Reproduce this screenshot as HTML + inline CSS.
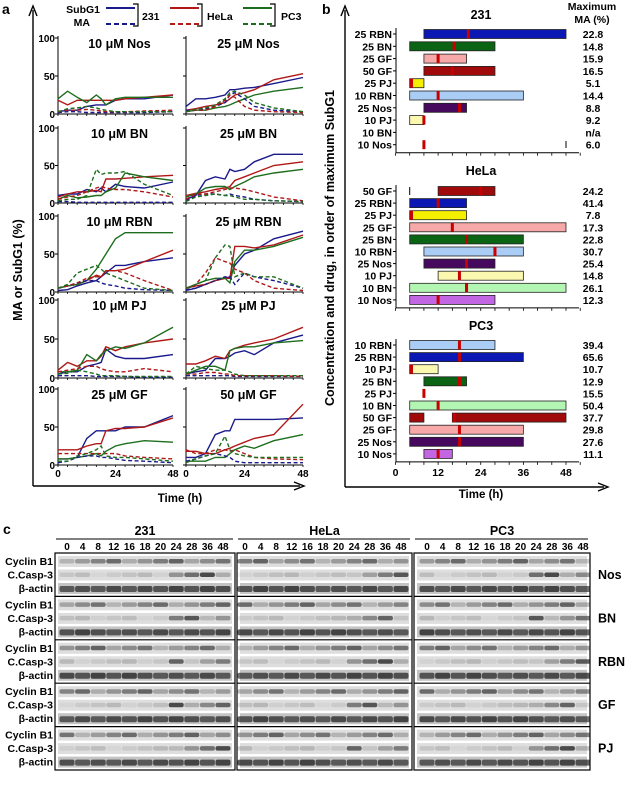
<!DOCTYPE html>
<html><head><meta charset="utf-8"><style>
body{margin:0;background:#fff}
svg{display:block;font-family:"Liberation Sans",Arial,sans-serif;font-weight:bold}
</style></head><body>
<svg id="fig" width="632" height="788" viewBox="0 0 632 788">
<g id="pa"></g>
<g id="pb"></g>
<g id="pc"></g>
</svg>
<script>
// ---------- Panel a data ----------
const times=[0,4,8,12,16,18,20,24,28,36,48];
const plotTitles=["10 \u03bcM Nos","25 \u03bcM Nos","10 \u03bcM BN","25 \u03bcM BN","10 \u03bcM RBN","25 \u03bcM RBN","10 \u03bcM PJ","25 \u03bcM PJ","25 \u03bcM GF","50 \u03bcM GF"];
const sub231=[[3,5,5,10,12,12,12,18,20,20,25],[10,20,20,22,25,32,32,34,35,40,48],[10,12,12,18,15,20,15,25,22,20,28],[5,10,30,35,32,45,42,45,55,65,65],[2,3,8,12,15,20,25,35,35,40,45],[2,5,10,15,18,20,35,50,55,70,80],[5,8,8,15,18,20,37,28,25,25,30],[5,8,10,25,25,28,32,35,30,45,55],[8,8,10,35,45,45,45,45,50,50,65],[10,10,15,40,45,45,60,60,60,60,62]];
const subHeLa=[[18,12,18,18,18,18,18,18,20,22,25],[5,7,10,12,15,20,25,28,32,45,53],[8,12,15,15,17,15,32,32,33,35,37],[10,13,15,18,20,22,30,35,40,50,55],[5,8,10,15,22,20,28,28,30,40,55],[5,8,10,15,18,18,60,60,58,62,75],[10,20,15,22,22,28,40,35,40,45,50],[18,18,22,28,25,35,38,42,45,50,65],[20,20,20,25,28,28,45,48,48,50,62],[18,18,15,15,20,22,25,30,35,40,80]];
const subPC3=[[20,30,22,15,25,20,12,20,22,22,22],[3,5,5,8,10,12,15,20,25,30,35],[5,10,7,8,10,10,15,20,40,35,30],[8,12,20,22,22,18,22,28,35,40,45],[5,8,10,15,30,40,50,70,78,78,78],[5,10,15,18,18,12,40,55,55,60,72],[8,8,10,30,22,30,35,40,38,45,65],[5,10,15,15,10,35,38,40,40,45,48],[8,8,10,12,15,12,18,25,28,32,30],[5,5,5,10,10,15,20,25,22,32,40]];
const ma231=[[2,3,3,2,2,2,2,2,2,2,3],[5,5,7,10,15,25,28,20,10,5,3],[2,2,1,1,1,1,1,1,1,1,1],[3,10,12,12,10,12,10,8,5,3,2],[5,8,12,15,15,12,10,8,5,3,2],[3,5,10,15,20,20,10,25,20,15,5],[3,3,3,3,2,2,2,2,2,1,1],[3,3,3,3,3,3,2,2,2,2,2],[3,5,10,12,12,10,10,8,6,5,3],[5,8,12,15,12,10,5,3,3,3,3]];
const maHeLa=[[3,5,5,6,5,4,3,3,3,4,5],[3,5,5,10,18,25,22,10,5,3,2],[5,8,10,15,20,22,20,18,18,15,8],[5,12,12,15,18,20,20,18,15,8,3],[5,8,12,18,20,20,28,28,25,15,2],[5,10,25,45,40,38,30,25,15,5,2],[8,10,12,15,15,12,10,8,8,12,8],[5,5,7,7,5,5,3,3,3,3,2],[15,15,15,15,15,15,15,15,12,10,8],[20,15,15,20,20,18,20,15,10,8,7]];
const maPC3=[[3,7,8,10,8,6,5,3,3,3,3],[3,6,8,12,20,28,30,25,15,8,3],[3,5,5,10,45,38,40,40,42,25,10],[2,8,10,12,10,10,8,5,5,3,2],[5,10,25,30,35,30,25,20,15,5,2],[5,10,15,45,62,60,20,25,20,20,5],[5,6,10,8,5,3,3,3,2,2,2],[5,15,12,10,10,8,5,3,3,3,3],[5,5,12,15,20,25,12,10,10,8,5],[3,8,12,15,38,20,15,12,10,10,10]];

// ---------- Panel b data ----------
const bSections=["231","HeLa","PC3"];
const bLabels=[["25 RBN","25 BN","25 GF","50 GF","25 PJ","10 RBN","25 Nos","10 PJ","10 BN","10 Nos"],
["50 GF","25 RBN","25 PJ","25 GF","25 BN","10 RBN","25 Nos","10 PJ","10 BN","10 Nos"],
["10 RBN","25 RBN","10 PJ","25 BN","25 PJ","10 BN","50 GF","25 GF","25 Nos","10 Nos"]];
const bStart=[[8,4,8,8,4,4,8,4,null,null],[12,4,4,4,4,8,8,12,4,4],[4,4,4,8,null,4,4,4,4,8]];
const bEnd=[[48,28,20,28,8,36,20,8,null,null],[28,20,20,48,36,36,28,36,48,28],[28,36,12,20,null,48,48,36,36,16]];
const bPeak=[[20.5,16.5,12,16,4.5,12,18,8,null,8],[24,12,4.5,16,20,28,20,18,20,12],[18,18,4.5,18,8,12,16.5,18,18,12]];
const bMaxMA=[["22.8","14.8","15.9","16.5","5.1","14.4","8.8","9.2","n/a","6.0"],["24.2","41.4","7.8","17.3","22.8","30.7","25.4","14.8","26.1","12.3"],["39.4","65.6","10.7","12.9","15.5","50.4","37.7","29.8","27.6","11.1"]];
const bTicks=[0,12,24,36,48];
const drugColor={"25 RBN":"#0b18b4","25 BN":"#0b6414","25 GF":"#f7a9a9","50 GF":"#a00a0a","25 PJ":"#f5ef00","10 RBN":"#a9cdf5","25 Nos":"#46095e","10 PJ":"#fbf8b0","10 BN":"#b3f5b3","10 Nos":"#c266e3"};

const NS="http://www.w3.org/2000/svg";
function mk(parent,tag,attrs,text){const e=document.createElementNS(NS,tag);for(const k in attrs)e.setAttribute(k,attrs[k]);if(text!==undefined)e.textContent=text;parent.appendChild(e);return e;}

// ===== Panel A =====
const pa=document.getElementById('pa');
let t;
t=mk(pa,'text',{x:2,y:14,'font-size':14},'a');


let ax=mk(pa,'path',{d:'M33,486 L33,10 M29,16 L33,6 L37,16 M33,486 L300,486 M294,482 L304,486 L294,490',stroke:'#000','stroke-width':1.4,fill:'none'});


t=mk(pa,'text',{x:0,y:0,'font-size':12.5,'text-anchor':'middle',transform:'translate(22,270) rotate(-90)'},'MA or SubG1 (%)');


t=mk(pa,'text',{x:180,y:502,'font-size':11.5,'text-anchor':'middle'},'Time (h)');


const lg=mk(pa,'g',{});


mk(lg,'text',{x:100,y:13,'font-size':10.5,'text-anchor':'end'},'SubG1');
mk(lg,'text',{x:90,y:26,'font-size':10.5,'text-anchor':'end'},'MA');
const legItems=[["231","#1a1a8c",106,142],["HeLa","#b01818",170,207],["PC3","#1e6e1e",243,281]];
legItems.forEach(li=>{
  const g=mk(lg,'g',{});
  
  
  mk(g,'line',{x1:li[2],y1:8,x2:li[2]+29,y2:8,stroke:li[1],'stroke-width':2});
  mk(g,'line',{x1:li[2],y1:24,x2:li[2]+29,y2:24,stroke:li[1],'stroke-width':2,'stroke-dasharray':'5,3'});
  mk(g,'path',{d:`M${li[2]+27},4 L${li[2]+32},4 L${li[2]+32},26 L${li[2]+27},26`,stroke:'#000','stroke-width':1.2,fill:'none'});
  mk(g,'text',{x:li[3],y:20,'font-size':10.5},li[0]);
});
const rowTop=[38,128,216,300,389], rowBot=[114,203,292,378,465];
const colL=[58,186], colR=[173,303];
const seriesDefs=[[sub231,'#1a1a8c',false,'subg1-231'],[subHeLa,'#b01818',false,'subg1-hela'],[subPC3,'#1e6e1e',false,'subg1-pc3'],[ma231,'#1a1a8c',true,'ma-231'],[maHeLa,'#b01818',true,'ma-hela'],[maPC3,'#1e6e1e',true,'ma-pc3']];
for(let p=0;p<10;p++){
  const r=Math.floor(p/2), c=p%2;
  const x0=colL[c], x1=colR[c], yT=rowTop[r], yB=rowBot[r];
  const xs=v=>x0+(v/48)*(x1-x0);
  const ys=v=>yB-(v/100)*(yB-yT);
  const g=mk(pa,'g',{});
  
  
  mk(g,'line',{x1:x0,y1:yT-2,x2:x0,y2:yB,stroke:'#000','stroke-width':1});
  mk(g,'line',{x1:x0,y1:yB,x2:x1,y2:yB,stroke:'#000','stroke-width':1});
  for(let h=0;h<=48;h+=4){mk(g,'line',{x1:xs(h),y1:yB,x2:xs(h),y2:yB+2,stroke:'#000','stroke-width':0.8});}
  [0,50,100].forEach(v=>{mk(g,'line',{x1:x0-3,y1:ys(v),x2:x0,y2:ys(v),stroke:'#000','stroke-width':1});
    if(c===0) mk(g,'text',{x:x0-3,y:ys(v)+4,'font-size':10,'text-anchor':'end'},String(v));});
  if(r===4){[0,24,48].forEach(v=>mk(g,'text',{x:xs(v),y:yB+12,'font-size':10,'text-anchor':'middle'},String(v)));}
  mk(g,'text',{x:(x0+x1)/2+4,y:yT+10,'font-size':12.5,'text-anchor':'middle'},plotTitles[p]);
  seriesDefs.forEach(sd=>{
    const vals=sd[0][p];
    const pts=times.map((tm,i)=>xs(tm).toFixed(1)+','+ys(vals[i]).toFixed(1)).join(' ');
    const pl=mk(g,'polyline',{points:pts,fill:'none',stroke:sd[1],'stroke-width':1.4});
    if(sd[2]) pl.setAttribute('stroke-dasharray','4,2.5');
    
    
  });
}

// ===== Panel B =====
const pb=document.getElementById('pb');
t=mk(pb,'text',{x:322,y:14,'font-size':14},'b');


ax=mk(pb,'path',{d:'M345,487 L345,10 M341,16 L345,6 L349,16 M345,487 L604,487 M598,483 L608,487 L598,491',stroke:'#000','stroke-width':1.4,fill:'none'});


t=mk(pb,'text',{x:0,y:0,'font-size':12.5,'text-anchor':'middle',transform:'translate(334,248) rotate(-90)'},'Concentration and drug, in order of maximum SubG1');


t=mk(pb,'text',{x:481,y:498,'font-size':11.5,'text-anchor':'middle'},'Time (h)');


t=mk(pb,'text',{x:592,y:10,'font-size':10.5,'text-anchor':'middle'},'Maximum');


mk(pb,'text',{x:592,y:23,'font-size':10.5,'text-anchor':'middle'},'MA (%)');
const bx=h=>395.5+h*(170.5/48);
const secTop=[34,191,345], secTitleY=[19,175,330], rowH=[12.3,12.1,12.1];
for(let s=0;s<3;s++){
  const g=mk(pb,'g',{});
  
  
  mk(g,'text',{x:481,y:secTitleY[s],'font-size':12.5,'text-anchor':'middle'},bSections[s]);
  const yFirst=secTop[s], yLast=secTop[s]+9*rowH[s], axY=yLast+8;
  mk(g,'line',{x1:396,y1:yFirst-6,x2:396,y2:axY,stroke:'#000','stroke-width':1});
  mk(g,'line',{x1:396,y1:axY,x2:579,y2:axY,stroke:'#000','stroke-width':1});
  for(let h=0;h<=52;h+=4){mk(g,'line',{x1:bx(h),y1:axY,x2:bx(h),y2:axY+3,stroke:'#000','stroke-width':0.8});}
  if(s===2){bTicks.forEach(v=>mk(g,'text',{x:bx(v),y:axY+14,'font-size':10.5,'text-anchor':'middle'},String(v)));}
  for(let i=0;i<10;i++){
    const y=yFirst+i*rowH[s], lab=bLabels[s][i];
    mk(g,'text',{x:392,y:y+4,'font-size':10.5,'text-anchor':'end'},lab);
    mk(g,'line',{x1:393,y1:y,x2:396,y2:y,stroke:'#000','stroke-width':1});
    mk(g,'text',{x:593,y:y+4,'font-size':10.5,'text-anchor':'middle'},bMaxMA[s][i]);
    if(bStart[s][i]!==null){
      const segs=(s===2&&lab==="50 GF")?[[bStart[s][i],8],[16,bEnd[s][i]]]:[[bStart[s][i],bEnd[s][i]]];
      segs.forEach(sg=>{
        const b=mk(g,'rect',{x:bx(sg[0]),y:y-4.5,width:bx(sg[1])-bx(sg[0]),height:9,fill:drugColor[lab],stroke:'#222','stroke-width':0.8});
        
        
      });
    }
    if(bPeak[s][i]!==null){
      const m=mk(g,'rect',{x:bx(bPeak[s][i])-1.5,y:y-4.5,width:3,height:9,fill:'#c80000'});
      
      
    }
  }
}
mk(pb,'line',{x1:bx(48),y1:141,x2:bx(48),y2:148,stroke:'#000','stroke-width':1});
mk(pb,'line',{x1:bx(4),y1:187,x2:bx(4),y2:195,stroke:'#000','stroke-width':1});

// ===== Panel C (western blots) =====
const pc=document.getElementById('pc');
t=mk(pc,'text',{x:3,y:534,'font-size':14},'c');


const lanes=["0","4","8","12","16","18","20","24","28","36","48"];
const cells=[["231",55,235,67,223],["HeLa",237,412,245,401],["PC3",414,590,427,583]];
const drugs=["Nos","BN","RBN","GF","PJ"];
const proteins=["Cyclin B1","C.Casp-3","\u03b2-actin"];
const rowY0=553, grpH=43.4;
cells.forEach((c,ci)=>{
  const g=mk(pc,'g',{});
  
  
  mk(g,'text',{x:(c[1]+c[2])/2,y:535,'font-size':12.5,'text-anchor':'middle'},c[0]);
  mk(g,'line',{x1:c[1]+1,y1:539,x2:c[2]-2,y2:539,stroke:'#000','stroke-width':1});
  const step=(c[4]-c[3])/10;
  lanes.forEach((l,i)=>mk(g,'text',{x:c[3]+i*step,y:550,'font-size':10,'text-anchor':'middle'},l));
  mk(g,'rect',{x:c[1],y:rowY0,width:c[2]-c[1],height:grpH*5,fill:'#fff',stroke:'#000','stroke-width':1.2});
  drugs.forEach((d,di)=>{
    const gy=rowY0+di*grpH;
    if(di>0) mk(g,'line',{x1:c[1],y1:gy,x2:c[2],y2:gy,stroke:'#000','stroke-width':1.2});
    proteins.forEach((pn,pi)=>{
      const sy=gy+3+pi*13.5;
      mk(g,'rect',{x:c[1]+3,y:sy,width:c[2]-c[1]-6,height:11,fill:pi===2?'#c4c4c4':'#dedede'});
      for(let li=0;li<11;li++){
        const h=(ci*7+di*13+pi*5+li*3)%11;
        let op;
        if(pi===2) op=0.6+0.03*(h%5);
        else if(pi===0) op=0.2+0.04*h;
        else op=(li>=7?0.12+0.06*h:0.04+0.015*h);
        mk(g,'rect',{x:c[3]+li*step-7.5,y:sy+3,width:15,height:pi===2?6:4.5,rx:2,fill:'#111','fill-opacity':Math.min(op,0.95)});
      }
    });
  });
});
drugs.forEach((d,di)=>{
  const gy=rowY0+di*grpH;
  proteins.forEach((pn,pi)=>{
    t=mk(pc,'text',{x:53,y:gy+12+pi*13.5,'font-size':10.5,'text-anchor':'end'},pn);
    
    
  });
  t=mk(pc,'text',{x:598,y:gy+26,'font-size':12.5},d);
  
  
});
</script>
</body></html>
